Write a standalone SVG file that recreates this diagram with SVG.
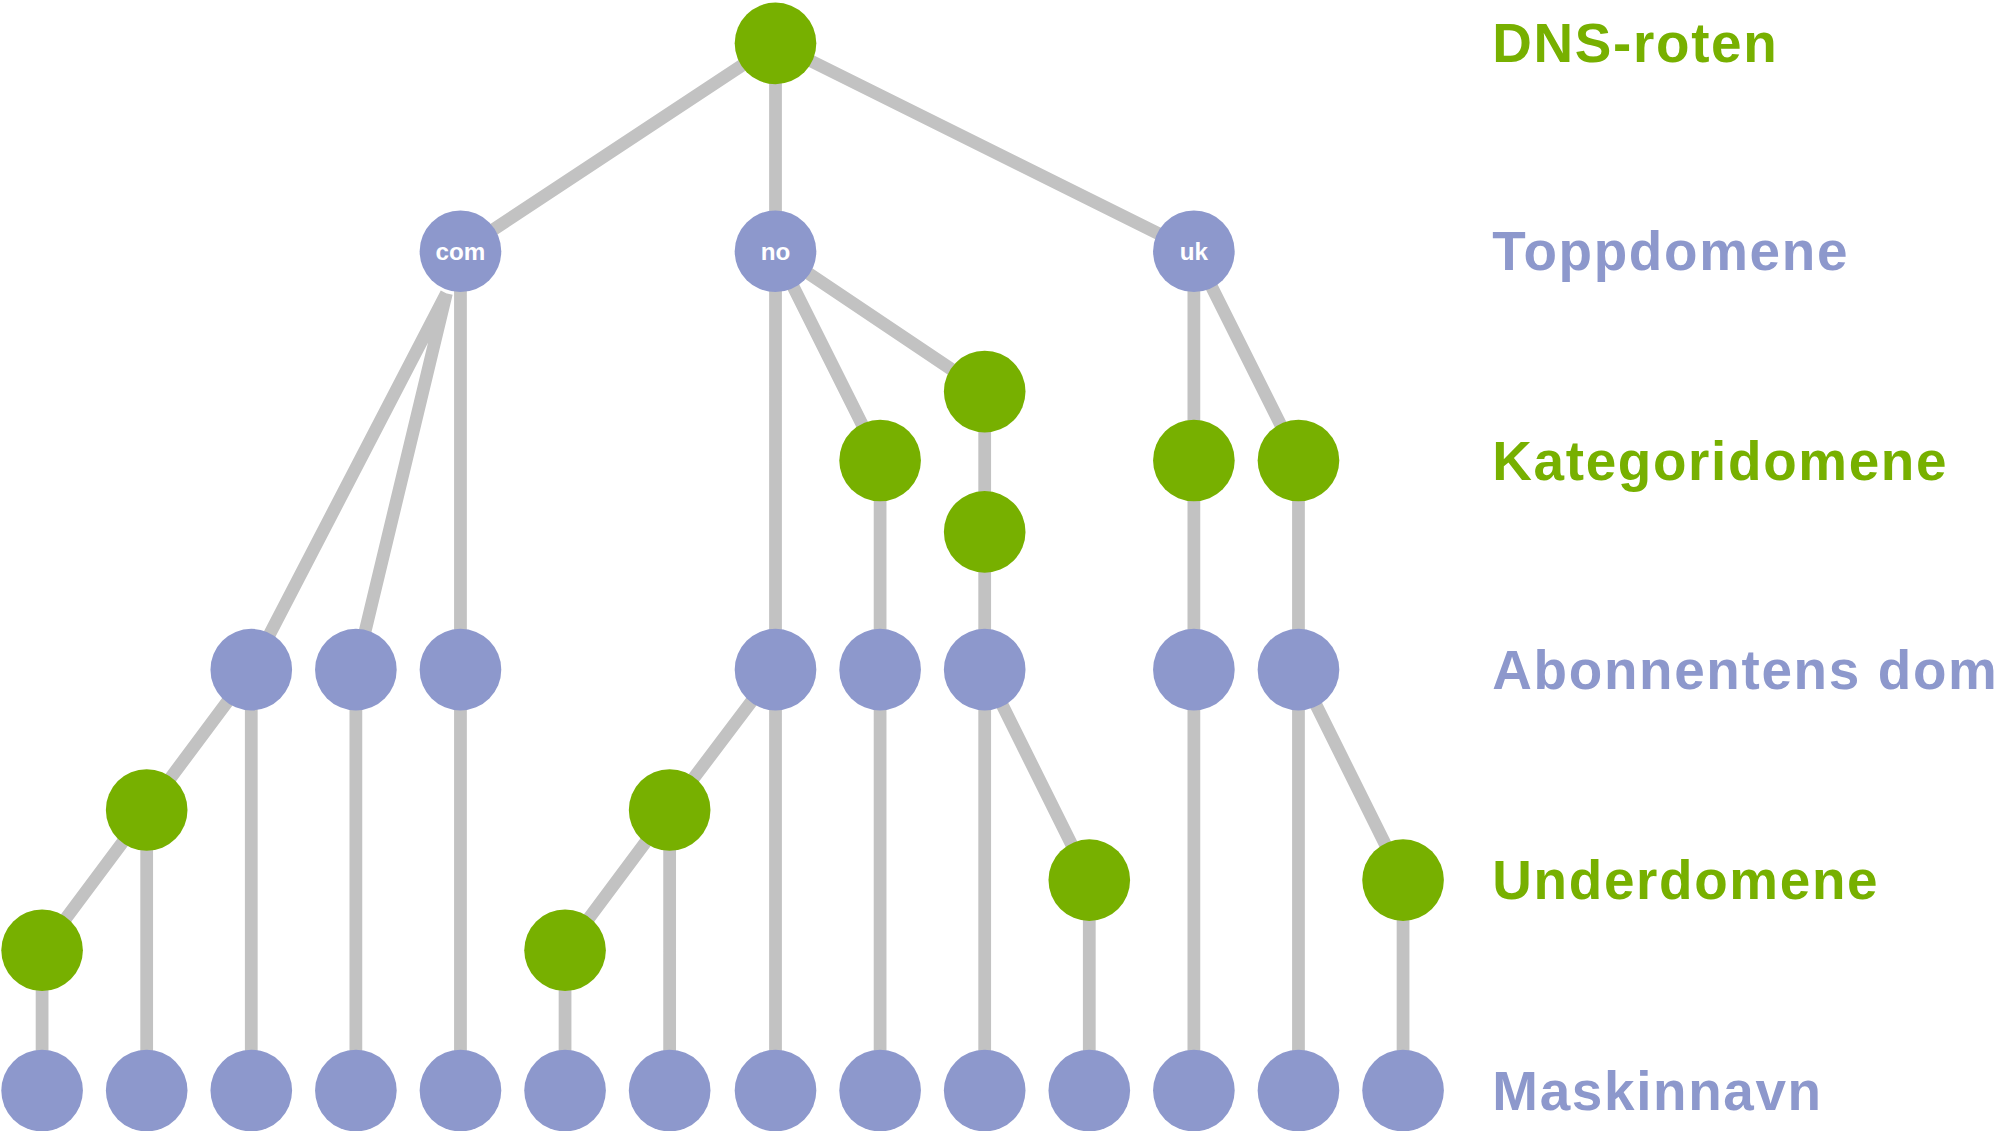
<svg xmlns="http://www.w3.org/2000/svg" width="2000" height="1131" viewBox="0 0 2000 1131">
<style>
.e{stroke:#c2c2c2;stroke-width:10;fill:none}
.g{fill:#77b000}
.b{fill:#8d98cc}
.lbl{font-family:"Liberation Sans",Arial,sans-serif;font-weight:bold;font-size:43px;letter-spacing:1.3px}
.nl{font-family:"Liberation Sans",Arial,sans-serif;font-weight:bold;font-size:19px;fill:#fff;text-anchor:middle}
</style>
<rect width="2000" height="1131" fill="#fff"/>
<g transform="scale(1.27551)">
<g id="connectors">
<path class="e" d="M608 34L361 197M608 34L608 197M608 34L936 197
M350 230L197 525M350 230L279 525M361 197L361 525
M608 197L608 525M608 197L690 361M608 197L772 307M772 307L772 525M690 361L690 525
M936 197L936 361M936 197L1018 361M936 361L936 525M1018 361L1018 525
M197 525L115 635L33 745L33 855M115 635L115 855M197 525L197 855M279 525L279 855M361 525L361 855
M608 525L525 635L443 745L443 855M525 635L525 855M608 525L608 855
M690 525L690 855M772 525L772 855M772 525L854 690L854 855
M936 525L936 855M1018 525L1018 855M1018 525L1100 690L1100 855"/>
</g>
<g id="root"><circle class="g" cx="608" cy="34" r="32"/></g>
<g id="com"><circle class="b" cx="361" cy="197" r="32"/><text class="nl" x="361" y="204">com</text></g>
<g id="no"><circle class="b" cx="608" cy="197" r="32"/><text class="nl" x="608" y="204">no</text></g>
<g id="uk"><circle class="b" cx="936" cy="197" r="32"/><text class="nl" x="936" y="204">uk</text></g>
<g id="kat"><circle class="g" cx="690" cy="361" r="32"/><circle class="g" cx="772" cy="307" r="32"/><circle class="g" cx="772" cy="417" r="32"/><circle class="g" cx="936" cy="361" r="32"/><circle class="g" cx="1018" cy="361" r="32"/></g>
<g id="abo"><circle class="b" cx="197" cy="525" r="32"/><circle class="b" cx="279" cy="525" r="32"/><circle class="b" cx="361" cy="525" r="32"/><circle class="b" cx="608" cy="525" r="32"/><circle class="b" cx="690" cy="525" r="32"/><circle class="b" cx="772" cy="525" r="32"/><circle class="b" cx="936" cy="525" r="32"/><circle class="b" cx="1018" cy="525" r="32"/></g>
<g id="under"><circle class="g" cx="115" cy="635" r="32"/><circle class="g" cx="33" cy="745" r="32"/><circle class="g" cx="525" cy="635" r="32"/><circle class="g" cx="443" cy="745" r="32"/><circle class="g" cx="854" cy="690" r="32"/><circle class="g" cx="1100" cy="690" r="32"/></g>
<g id="maskin"><circle class="b" cx="33" cy="855" r="32"/><circle class="b" cx="115" cy="855" r="32"/><circle class="b" cx="197" cy="855" r="32"/><circle class="b" cx="279" cy="855" r="32"/><circle class="b" cx="361" cy="855" r="32"/><circle class="b" cx="443" cy="855" r="32"/><circle class="b" cx="525" cy="855" r="32"/><circle class="b" cx="608" cy="855" r="32"/><circle class="b" cx="690" cy="855" r="32"/><circle class="b" cx="772" cy="855" r="32"/><circle class="b" cx="854" cy="855" r="32"/><circle class="b" cx="936" cy="855" r="32"/><circle class="b" cx="1018" cy="855" r="32"/><circle class="b" cx="1100" cy="855" r="32"/></g>
<g id="labels">
<text class="lbl g" x="1170" y="49">DNS-roten</text>
<text class="lbl b" x="1170" y="212">Toppdomene</text>
<text class="lbl g" x="1170" y="376">Kategoridomene</text>
<text class="lbl b" x="1170" y="540">Abonnentens domene</text>
<text class="lbl g" x="1170" y="705">Underdomene</text>
<text class="lbl b" x="1170" y="870">Maskinnavn</text>
</g>
</g>
</svg>
